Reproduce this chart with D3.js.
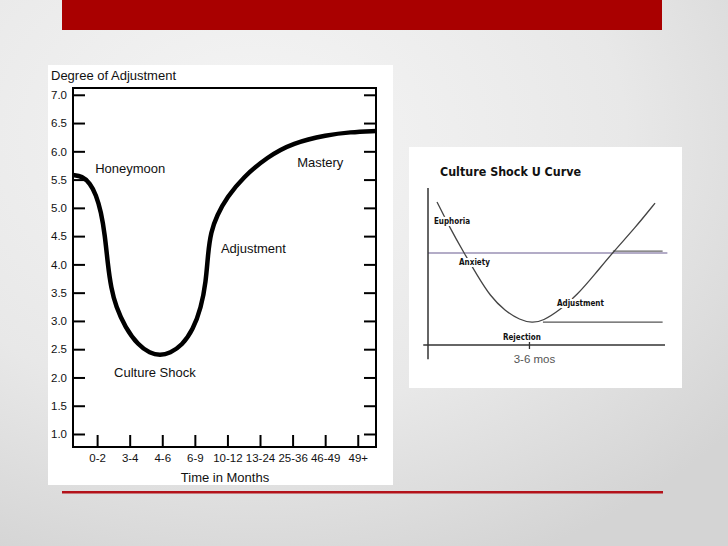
<!DOCTYPE html>
<html>
<head>
<meta charset="utf-8">
<script src="https://cdn.jsdelivr.net/npm/d3@7"></script>
<style>
  body { margin: 0; background: #e4e4e4; }
  svg { display: block; }
</style>
</head>
<body>
<script>
// left chart: W curve, degree of adjustment by time slot
const monthLabels = ["0-2", "3-4", "4-6", "6-9", "10-12", "13-24", "25-36", "46-49", "49+"];
const degreeTicks = [1.0, 1.5, 2.0, 2.5, 3.0, 3.5, 4.0, 4.5, 5.0, 5.5, 6.0, 6.5, 7.0];
// x is in month-slot units (0 = "0-2")
const curveSlot = [-0.74, -0.46, -0.22, -0.03, 0.12, 0.24, 0.33, 0.43, 0.58, 0.86, 1.26, 1.62, 1.93, 2.24, 2.61, 2.94, 3.19, 3.34, 3.4, 3.49, 3.68, 3.99, 4.48, 5.22, 6.01, 7.06, 7.76, 8.56];
const curveDegree = [5.58, 5.56, 5.44, 5.23, 4.93, 4.52, 3.99, 3.58, 3.25, 2.89, 2.57, 2.43, 2.39, 2.43, 2.57, 2.84, 3.23, 3.69, 4.17, 4.57, 4.87, 5.19, 5.54, 5.9, 6.15, 6.29, 6.34, 6.36];
const phaseNames = ["Honeymoon", "Culture Shock", "Adjustment", "Mastery"];

// right chart: U curve, abstract 0-100 units
const uCurveX = [3.8, 9.3, 15.2, 20.7, 26.2, 32.5, 38.8, 43.9, 48.5, 55.7, 62.9, 70.5, 78.1, 87.3, 95.8];
const uCurveY = [91.1, 74.5, 58.6, 44.6, 31.2, 21.7, 15.9, 14.0, 15.3, 22.3, 31.8, 45.2, 59.2, 74.5, 90.4];
const uStageNames = ["Euphoria", "Anxiety", "Adjustment", "Rejection"];
const uTickLabel = "3-6 mos";
const uTickAt = 42.6;

const W = 728, H = 546;
const svg = d3.select("body").append("svg")
  .attr("width", W)
  .attr("height", H);

// slide background
const defs = svg.append("defs");
const bg = defs.append("radialGradient").attr("id", "bg")
  .attr("cx", "35%").attr("cy", "25%").attr("r", "85%");
bg.append("stop").attr("offset", "0%").attr("stop-color", "#f5f5f5");
bg.append("stop").attr("offset", "60%").attr("stop-color", "#e8e8e8");
bg.append("stop").attr("offset", "100%").attr("stop-color", "#d4d4d4");
svg.append("rect").attr("width", W).attr("height", H).attr("fill", "url(#bg)");

svg.append("rect")
  .attr("x", 62).attr("y", 0).attr("width", 600).attr("height", 30)
  .attr("fill", "#a90000");
svg.append("rect")
  .attr("x", 62).attr("y", 491).attr("width", 601).attr("height", 2.5)
  .attr("fill", "#b3121a");

// ---------- left chart ----------
svg.append("rect")
  .attr("x", 48).attr("y", 65).attr("width", 345).attr("height", 420)
  .attr("fill", "#fff");

const x = d3.scaleLinear().domain([-0.74, 8.56]).range([73, 376]);
const y = d3.scaleLinear().domain([0.77, 7.12]).range([447, 88]);

const left = svg.append("g").attr("font-family", "'Liberation Sans', Arial, sans-serif");

defs.append("clipPath").attr("id", "frame")
  .append("rect")
  .attr("x", x.range()[0]).attr("y", y.range()[1])
  .attr("width", x.range()[1] - x.range()[0])
  .attr("height", y.range()[0] - y.range()[1]);

const line = d3.line()
  .x(d => x(d[0]))
  .y(d => y(d[1]))
  .curve(d3.curveBasis);

left.append("path")
  .datum(curveSlot.map((s, i) => [s, curveDegree[i]]))
  .attr("clip-path", "url(#frame)")
  .attr("d", line)
  .attr("fill", "none")
  .attr("stroke", "#000")
  .attr("stroke-width", 4.5);

const yAxisL = left.append("g")
  .attr("transform", `translate(${x.range()[0]},0)`)
  .call(d3.axisLeft(y).tickValues(degreeTicks).tickFormat(d3.format(".1f"))
    .tickSizeInner(-12).tickSizeOuter(0).tickPadding(6));
const yAxisR = left.append("g")
  .attr("transform", `translate(${x.range()[1]},0)`)
  .call(d3.axisRight(y).tickValues(degreeTicks).tickFormat("")
    .tickSizeInner(-12).tickSizeOuter(0));
const xAxis = left.append("g")
  .attr("transform", `translate(0,${y.range()[0]})`)
  .call(d3.axisBottom(x).tickValues(d3.range(monthLabels.length))
    .tickFormat(i => monthLabels[i]).tickSizeInner(-12).tickSizeOuter(0).tickPadding(7));

[yAxisL, yAxisR, xAxis].forEach(g => {
  g.attr("font-family", null).attr("font-size", null);
  g.select(".domain").remove();
  g.selectAll(".tick line").attr("stroke", "#000").attr("stroke-width", 2);
  g.selectAll(".tick text").attr("fill", "#111").attr("font-size", 11.5);
});

left.append("rect")
  .attr("x", x.range()[0]).attr("y", y.range()[1])
  .attr("width", x.range()[1] - x.range()[0])
  .attr("height", y.range()[0] - y.range()[1])
  .attr("fill", "none")
  .attr("stroke", "#000")
  .attr("stroke-width", 2);

left.append("text")
  .attr("x", 51).attr("y", 75).attr("dy", "0.35em")
  .attr("font-size", 13).attr("fill", "#111")
  .text("Degree of Adjustment");
left.append("text")
  .attr("x", (x.range()[0] + x.range()[1]) / 2 + 0.5).attr("y", 477).attr("dy", "0.35em")
  .attr("text-anchor", "middle")
  .attr("font-size", 13).attr("fill", "#111")
  .text("Time in Months");

const phaseAt = [[-0.06, 5.69], [0.52, 2.08], [3.8, 4.29], [6.14, 5.81]];
left.selectAll("text.phase")
  .data(phaseNames)
  .join("text")
  .attr("class", "phase")
  .attr("x", (d, i) => x(phaseAt[i][0]))
  .attr("y", (d, i) => y(phaseAt[i][1]))
  .attr("dy", "0.35em")
  .attr("font-size", 13)
  .attr("fill", "#111")
  .text(d => d);

// ---------- right chart ----------
svg.append("rect")
  .attr("x", 409).attr("y", 147).attr("width", 273).attr("height", 241)
  .attr("fill", "#fff");

const xR = d3.scaleLinear().domain([0, 100]).range([428, 665]);
const yR = d3.scaleLinear().domain([0, 100]).range([345, 188]);
const right = svg.append("g");
const hand = "'DejaVu Sans Condensed', 'DejaVu Sans', sans-serif";

right.append("text")
  .attr("x", 440).attr("y", 172).attr("dy", "0.35em")
  .attr("font-family", hand).attr("font-weight", "bold")
  .attr("font-size", 12.4).attr("fill", "#111")
  .text("Culture Shock U Curve");

// reference levels
right.append("line")
  .attr("x1", xR(0)).attr("x2", xR(101)).attr("y1", yR(58.6)).attr("y2", yR(58.6))
  .attr("stroke", "#9a90b4").attr("stroke-width", 1.5);
right.append("line")
  .attr("x1", xR(78)).attr("x2", xR(99)).attr("y1", yR(59.8)).attr("y2", yR(59.8))
  .attr("stroke", "#666").attr("stroke-width", 1.3);
right.append("line")
  .attr("x1", xR(48.5)).attr("x2", xR(99)).attr("y1", yR(14.6)).attr("y2", yR(14.6))
  .attr("stroke", "#555").attr("stroke-width", 1.3);

// axes
right.append("line")
  .attr("x1", xR(0)).attr("x2", xR(0)).attr("y1", yR(100)).attr("y2", yR(-9))
  .attr("stroke", "#333").attr("stroke-width", 1.5);
const uAxis = right.append("g")
  .attr("transform", `translate(0,${yR(0)})`)
  .call(d3.axisBottom(xR).tickValues([uTickAt]).tickFormat(() => uTickLabel)
    .tickSizeInner(4).tickSizeOuter(0).tickPadding(6));
uAxis.attr("font-family", null).attr("font-size", null);
uAxis.select(".domain").remove();
uAxis.selectAll(".tick line").attr("y1", -3).attr("stroke", "#333").attr("stroke-width", 1.3);
uAxis.selectAll(".tick text")
  .attr("dx", 5)
  .attr("font-family", "'Liberation Sans', Arial, sans-serif")
  .attr("font-size", 11.5).attr("fill", "#555");
right.append("line")
  .attr("x1", xR(-2)).attr("x2", xR(100)).attr("y1", yR(0)).attr("y2", yR(0))
  .attr("stroke", "#333").attr("stroke-width", 1.5);

right.append("path")
  .datum(uCurveX.map((v, i) => [v, uCurveY[i]]))
  .attr("d", d3.line().x(d => xR(d[0])).y(d => yR(d[1])).curve(d3.curveBasis))
  .attr("fill", "none")
  .attr("stroke", "#444")
  .attr("stroke-width", 1.3);

const stageAt = [[2.5, 79], [13.1, 52.9], [54.4, 26.8], [31.6, 5.1]];
right.selectAll("text.stage")
  .data(uStageNames)
  .join("text")
  .attr("class", "stage")
  .attr("x", (d, i) => xR(stageAt[i][0]))
  .attr("y", (d, i) => yR(stageAt[i][1]))
  .attr("dy", "0.35em")
  .attr("font-family", hand)
  .attr("font-weight", "bold")
  .attr("font-size", 8)
  .attr("fill", "#111")
  .attr("stroke", "#fff")
  .attr("stroke-width", 4)
  .attr("paint-order", "stroke")
  .text(d => d);
</script>
</body>
</html>
